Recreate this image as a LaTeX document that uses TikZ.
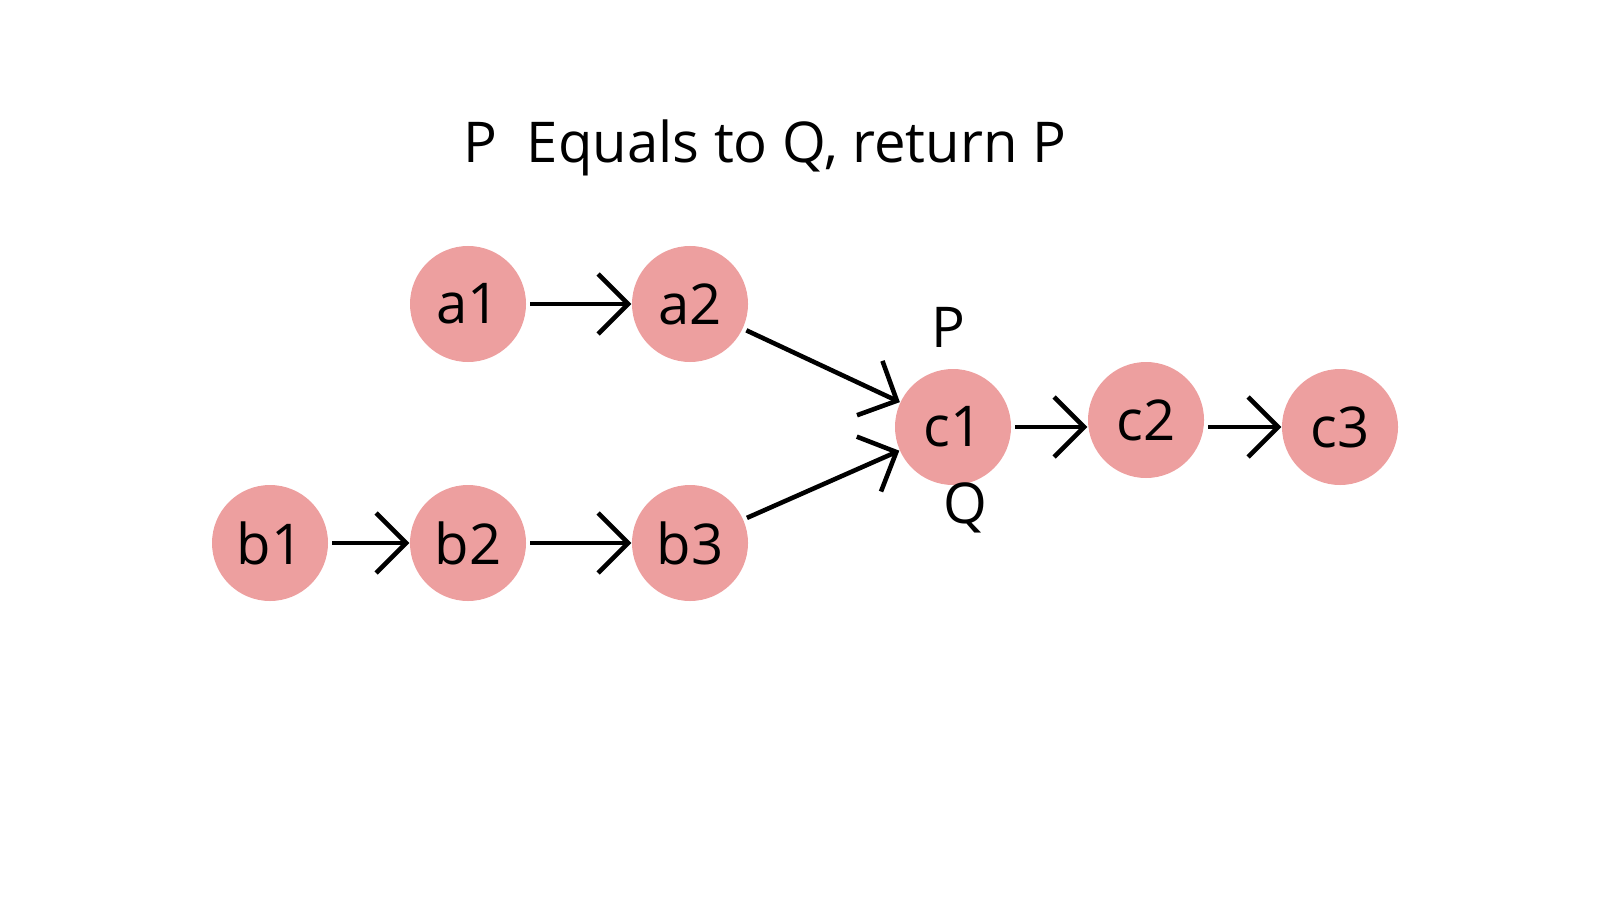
\documentclass[tikz,border=0pt]{standalone}
\usepackage{fontspec}
\setmainfont{Open Sans}
\usetikzlibrary{arrows.meta,positioning}
\definecolor{nodepink}{HTML}{ED9F9F}
\begin{document}
\begin{tikzpicture}[state/.style={circle, fill=nodepink, minimum size=1.16cm, inner sep=0pt, text=black, font=\fontsize{16}{19}\selectfont},
  link/.style={-{Straight Barb[length=3mm,width=6mm]}, line width=1.3pt, shorten <=1pt}]
                        \useasboundingbox (0,0) rectangle (16,9);
                        \node[font=\fontsize{16}{20}\selectfont] (title) at (7.65,7.52) {P\ \ Equals to Q, return P};
                        \node[state] (a1) at (4.68,5.96) {a1};
                        \node[state] (a2) at (6.90,5.96) {a2};
                        \node[state] (b1) at (2.70,3.57) {b1};
                        \node[state] (b2) at (4.68,3.57) {b2};
                        \node[state] (b3) at (6.90,3.57) {b3};
                        \node[state] (c1) at (9.53,4.73) {c1};
                        \node[state] (c2) at (11.46,4.80) {c2};
                        \node[state] (c3) at (13.40,4.73) {c3};
                        \node[font=\fontsize{16}{19}\selectfont] (p) at (9.48,5.73) {P};
                        \node[font=\fontsize{16}{19}\selectfont] (q) at (9.65,3.92) {Q};
                        \draw [link] (a1) -- (a2);
                        \draw [link] (b1.east) -- (b2);
                        \draw [link] (b2) -- (b3);
                        \draw [link] (a2) -- (c1);
                        \draw [link] (b3) -- (c1);
                        \draw [link] (c1) -- (c1 -| c2.west);
                        \draw [link] (c2.east |- c3) -- (c3);
                        \end{tikzpicture}
\end{document}
